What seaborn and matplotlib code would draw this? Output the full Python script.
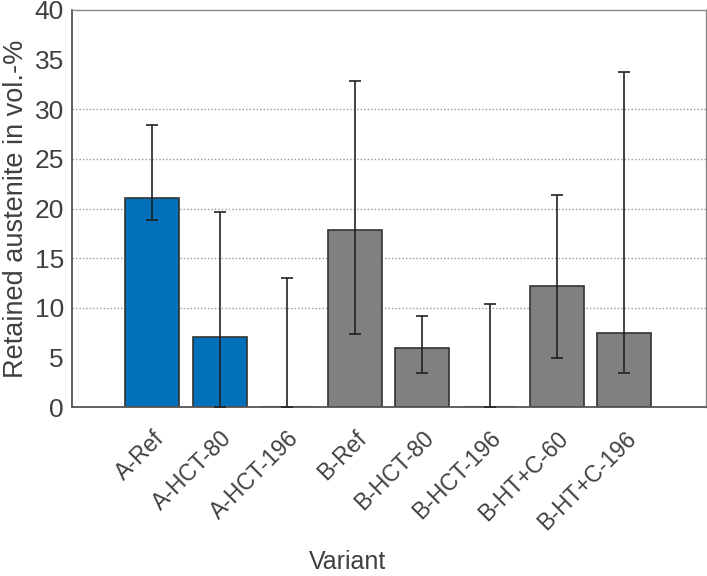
import matplotlib
matplotlib.use("Agg")
import matplotlib.pyplot as plt
import seaborn as sns
import pandas as pd

variants = ["A-Ref", "A-HCT-80", "A-HCT-196", "B-Ref", "B-HCT-80",
            "B-HCT-196", "B-HT+C-60", "B-HT+C-196"]
mean_vals = [21.1, 7.1, 0.0, 17.8, 6.0, 0.0, 12.2, 7.5]
err_low = [18.8, 0.0, 0.0, 7.4, 3.4, 0.0, 5.0, 3.4]
err_high = [28.4, 19.6, 13.0, 32.8, 9.2, 10.4, 21.4, 33.7]
bar_colors = ["#0070ba", "#0070ba", "#0070ba", "#808080", "#808080",
              "#808080", "#808080", "#808080"]

df = pd.DataFrame({"Variant": variants, "RA": mean_vals})

sns.set_style("white")
plt.rcParams["font.family"] = ["Liberation Sans", "DejaVu Sans"]

fig = plt.figure(figsize=(7.07, 5.76), dpi=100)
ax = fig.add_axes([0.102, 0.293, 0.8966, 0.690])

for g in [10, 15, 20, 25, 30]:
    ax.axhline(g, color="#999999", lw=1.0, ls=(0, (1, 1.5)), zorder=0)

sns.barplot(data=df, x="Variant", y="RA", hue="Variant", palette=bar_colors,
            saturation=1, legend=False, width=0.8, edgecolor="#333333",
            linewidth=1.2, ax=ax, zorder=2)

lower = [m - lo for m, lo in zip(mean_vals, err_low)]
upper = [hi - m for m, hi in zip(mean_vals, err_high)]
ax.errorbar(range(len(variants)), mean_vals, yerr=[lower, upper], fmt="none",
            ecolor="#222222", elinewidth=1.2, capsize=4, capthick=1.2, zorder=3)

ax.set_xlim(-1.19, 8.21)
ax.set_ylim(0, 40)
ax.set_yticks(range(0, 41, 5))
ax.tick_params(axis="y", labelsize=19, length=0, pad=6, colors="#404040")
ax.tick_params(axis="x", labelsize=16.5, length=0, pad=14, colors="#404040")
ax.set_xticks(range(len(variants)))
ax.set_xticklabels(variants, rotation=45, ha="right", rotation_mode="anchor")

ax.set_ylabel("Retained austenite in vol.-%", fontsize=19.5, color="#404040",
              labelpad=4)
ax.set_xlabel("Variant", fontsize=18, color="#404040")
ax.xaxis.set_label_coords(0.434, -0.39)
ax.xaxis.label.set_va("center")

for s in ["top", "right"]:
    ax.spines[s].set_color("#888888")
    ax.spines[s].set_linewidth(1.0)
for s in ["left", "bottom"]:
    ax.spines[s].set_color("#555555")
    ax.spines[s].set_linewidth(1.3)

fig.savefig("out.png", dpi=100)
